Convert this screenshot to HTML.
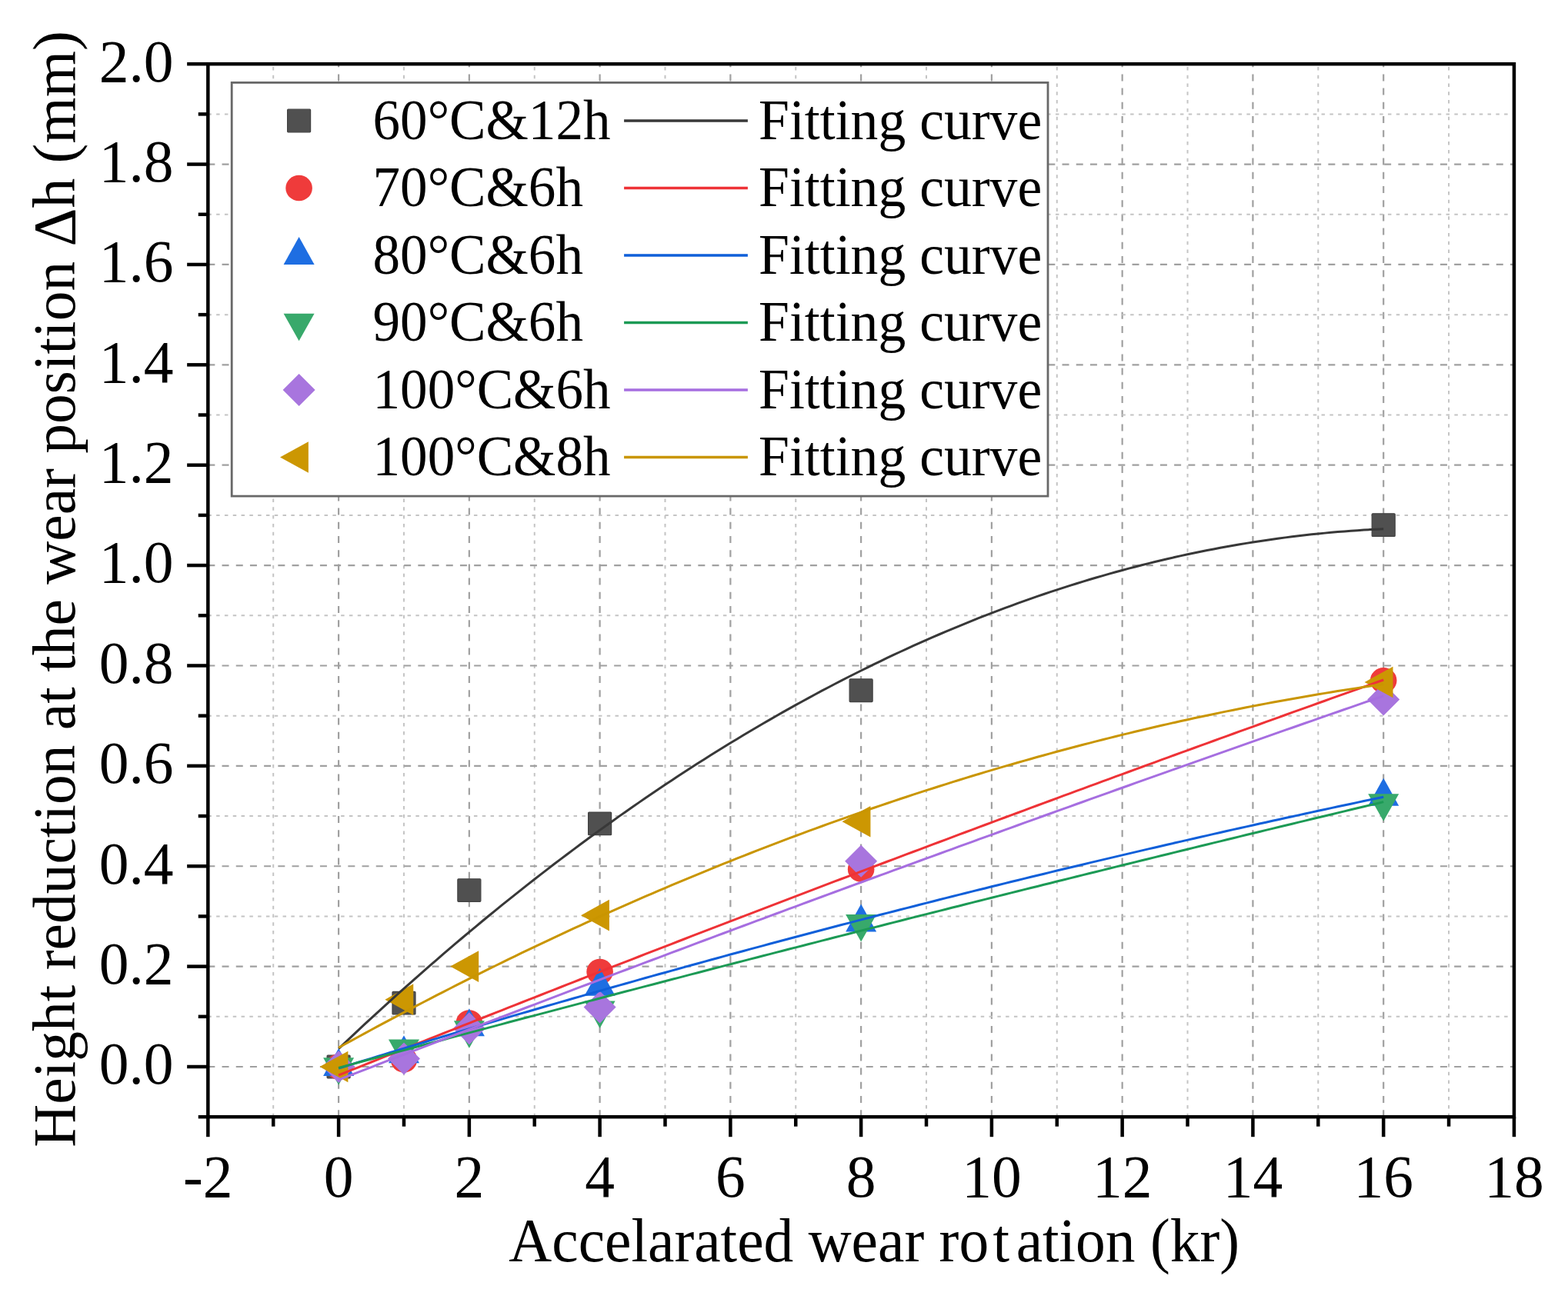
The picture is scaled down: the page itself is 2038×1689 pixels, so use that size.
<!DOCTYPE html><html><head><meta charset="utf-8"><style>html,body{margin:0;padding:0;background:#fff;overflow:hidden}svg{display:block}text{font-family:"Liberation Serif","Times New Roman",serif;fill:#000}</style></head><body>
<svg width="2038" height="1689" viewBox="0 0 2038 1689">
<rect width="2038" height="1689" fill="#fff"/>
<g><line x1="355.22" y1="1452.19" x2="355.22" y2="83.20" stroke="#c4c4c4" stroke-width="2" stroke-dasharray="4.5 6.3"/><line x1="440.10" y1="1452.19" x2="440.10" y2="83.20" stroke="#a0a0a0" stroke-width="2.2" stroke-dasharray="9 9.2"/><line x1="524.98" y1="1452.19" x2="524.98" y2="83.20" stroke="#c4c4c4" stroke-width="2" stroke-dasharray="4.5 6.3"/><line x1="609.86" y1="1452.19" x2="609.86" y2="83.20" stroke="#a0a0a0" stroke-width="2.2" stroke-dasharray="9 9.2"/><line x1="694.74" y1="1452.19" x2="694.74" y2="83.20" stroke="#c4c4c4" stroke-width="2" stroke-dasharray="4.5 6.3"/><line x1="779.62" y1="1452.19" x2="779.62" y2="83.20" stroke="#a0a0a0" stroke-width="2.2" stroke-dasharray="9 9.2"/><line x1="864.50" y1="1452.19" x2="864.50" y2="83.20" stroke="#c4c4c4" stroke-width="2" stroke-dasharray="4.5 6.3"/><line x1="949.38" y1="1452.19" x2="949.38" y2="83.20" stroke="#a0a0a0" stroke-width="2.2" stroke-dasharray="9 9.2"/><line x1="1034.26" y1="1452.19" x2="1034.26" y2="83.20" stroke="#c4c4c4" stroke-width="2" stroke-dasharray="4.5 6.3"/><line x1="1119.14" y1="1452.19" x2="1119.14" y2="83.20" stroke="#a0a0a0" stroke-width="2.2" stroke-dasharray="9 9.2"/><line x1="1204.02" y1="1452.19" x2="1204.02" y2="83.20" stroke="#c4c4c4" stroke-width="2" stroke-dasharray="4.5 6.3"/><line x1="1288.90" y1="1452.19" x2="1288.90" y2="83.20" stroke="#a0a0a0" stroke-width="2.2" stroke-dasharray="9 9.2"/><line x1="1373.78" y1="1452.19" x2="1373.78" y2="83.20" stroke="#c4c4c4" stroke-width="2" stroke-dasharray="4.5 6.3"/><line x1="1458.66" y1="1452.19" x2="1458.66" y2="83.20" stroke="#a0a0a0" stroke-width="2.2" stroke-dasharray="9 9.2"/><line x1="1543.54" y1="1452.19" x2="1543.54" y2="83.20" stroke="#c4c4c4" stroke-width="2" stroke-dasharray="4.5 6.3"/><line x1="1628.42" y1="1452.19" x2="1628.42" y2="83.20" stroke="#a0a0a0" stroke-width="2.2" stroke-dasharray="9 9.2"/><line x1="1713.30" y1="1452.19" x2="1713.30" y2="83.20" stroke="#c4c4c4" stroke-width="2" stroke-dasharray="4.5 6.3"/><line x1="1798.18" y1="1452.19" x2="1798.18" y2="83.20" stroke="#a0a0a0" stroke-width="2.2" stroke-dasharray="9 9.2"/><line x1="1883.06" y1="1452.19" x2="1883.06" y2="83.20" stroke="#c4c4c4" stroke-width="2" stroke-dasharray="4.5 6.3"/><line x1="270.34" y1="1387.00" x2="1967.94" y2="1387.00" stroke="#a0a0a0" stroke-width="2.2" stroke-dasharray="9 9.2"/><line x1="270.34" y1="1321.81" x2="1967.94" y2="1321.81" stroke="#c4c4c4" stroke-width="2" stroke-dasharray="4.5 6.3"/><line x1="270.34" y1="1256.62" x2="1967.94" y2="1256.62" stroke="#a0a0a0" stroke-width="2.2" stroke-dasharray="9 9.2"/><line x1="270.34" y1="1191.43" x2="1967.94" y2="1191.43" stroke="#c4c4c4" stroke-width="2" stroke-dasharray="4.5 6.3"/><line x1="270.34" y1="1126.24" x2="1967.94" y2="1126.24" stroke="#a0a0a0" stroke-width="2.2" stroke-dasharray="9 9.2"/><line x1="270.34" y1="1061.05" x2="1967.94" y2="1061.05" stroke="#c4c4c4" stroke-width="2" stroke-dasharray="4.5 6.3"/><line x1="270.34" y1="995.86" x2="1967.94" y2="995.86" stroke="#a0a0a0" stroke-width="2.2" stroke-dasharray="9 9.2"/><line x1="270.34" y1="930.67" x2="1967.94" y2="930.67" stroke="#c4c4c4" stroke-width="2" stroke-dasharray="4.5 6.3"/><line x1="270.34" y1="865.48" x2="1967.94" y2="865.48" stroke="#a0a0a0" stroke-width="2.2" stroke-dasharray="9 9.2"/><line x1="270.34" y1="800.29" x2="1967.94" y2="800.29" stroke="#c4c4c4" stroke-width="2" stroke-dasharray="4.5 6.3"/><line x1="270.34" y1="735.10" x2="1967.94" y2="735.10" stroke="#a0a0a0" stroke-width="2.2" stroke-dasharray="9 9.2"/><line x1="270.34" y1="669.91" x2="1967.94" y2="669.91" stroke="#c4c4c4" stroke-width="2" stroke-dasharray="4.5 6.3"/><line x1="270.34" y1="604.72" x2="1967.94" y2="604.72" stroke="#a0a0a0" stroke-width="2.2" stroke-dasharray="9 9.2"/><line x1="270.34" y1="539.53" x2="1967.94" y2="539.53" stroke="#c4c4c4" stroke-width="2" stroke-dasharray="4.5 6.3"/><line x1="270.34" y1="474.34" x2="1967.94" y2="474.34" stroke="#a0a0a0" stroke-width="2.2" stroke-dasharray="9 9.2"/><line x1="270.34" y1="409.15" x2="1967.94" y2="409.15" stroke="#c4c4c4" stroke-width="2" stroke-dasharray="4.5 6.3"/><line x1="270.34" y1="343.96" x2="1967.94" y2="343.96" stroke="#a0a0a0" stroke-width="2.2" stroke-dasharray="9 9.2"/><line x1="270.34" y1="278.77" x2="1967.94" y2="278.77" stroke="#c4c4c4" stroke-width="2" stroke-dasharray="4.5 6.3"/><line x1="270.34" y1="213.58" x2="1967.94" y2="213.58" stroke="#a0a0a0" stroke-width="2.2" stroke-dasharray="9 9.2"/><line x1="270.34" y1="148.39" x2="1967.94" y2="148.39" stroke="#c4c4c4" stroke-width="2" stroke-dasharray="4.5 6.3"/></g>
<g><rect x="425.10" y="1372.20" width="30" height="29.6" rx="1" fill="#505050" stroke="#424242" stroke-width="1.2"/><rect x="509.98" y="1289.41" width="30" height="29.6" rx="1" fill="#505050" stroke="#424242" stroke-width="1.2"/><rect x="594.86" y="1142.73" width="30" height="29.6" rx="1" fill="#505050" stroke="#424242" stroke-width="1.2"/><rect x="764.62" y="1056.03" width="30" height="29.6" rx="1" fill="#505050" stroke="#424242" stroke-width="1.2"/><rect x="1104.14" y="882.95" width="30" height="29.6" rx="1" fill="#505050" stroke="#424242" stroke-width="1.2"/><rect x="1783.18" y="667.82" width="30" height="29.6" rx="1" fill="#505050" stroke="#424242" stroke-width="1.2"/><ellipse cx="440.10" cy="1387.00" rx="17.3" ry="16.7" fill="#ef3b3b"/><ellipse cx="524.98" cy="1377.87" rx="17.3" ry="16.7" fill="#ef3b3b"/><ellipse cx="609.86" cy="1329.83" rx="17.3" ry="16.7" fill="#ef3b3b"/><ellipse cx="779.62" cy="1263.46" rx="17.3" ry="16.7" fill="#ef3b3b"/><ellipse cx="1119.14" cy="1130.15" rx="17.3" ry="16.7" fill="#ef3b3b"/><ellipse cx="1798.18" cy="884.71" rx="17.3" ry="16.7" fill="#ef3b3b"/><polygon points="440.10,1363.00 460.10,1399.00 420.10,1399.00" fill="#1e6ee2"/><polygon points="524.98,1346.18 544.98,1382.18 504.98,1382.18" fill="#1e6ee2"/><polygon points="609.86,1311.30 629.86,1347.30 589.86,1347.30" fill="#1e6ee2"/><polygon points="779.62,1258.70 799.62,1294.70 759.62,1294.70" fill="#1e6ee2"/><polygon points="1119.14,1175.51 1139.14,1211.51 1099.14,1211.51" fill="#1e6ee2"/><polygon points="1798.18,1011.63 1818.18,1047.63 1778.18,1047.63" fill="#1e6ee2"/><polygon points="440.10,1410.67 460.10,1375.17 420.10,1375.17" fill="#38a96b"/><polygon points="524.98,1387.07 544.98,1351.57 504.98,1351.57" fill="#38a96b"/><polygon points="609.86,1362.69 629.86,1327.19 589.86,1327.19" fill="#38a96b"/><polygon points="779.62,1337.00 799.62,1301.50 759.62,1301.50" fill="#38a96b"/><polygon points="1119.14,1224.48 1139.14,1188.98 1099.14,1188.98" fill="#38a96b"/><polygon points="1798.18,1067.77 1818.18,1032.27 1778.18,1032.27" fill="#38a96b"/><polygon points="440.10,1366.00 461.10,1387.00 440.10,1408.00 419.10,1387.00" fill="#a875de"/><polygon points="524.98,1355.57 545.98,1376.57 524.98,1397.57 503.98,1376.57" fill="#a875de"/><polygon points="609.86,1316.13 630.86,1337.13 609.86,1358.13 588.86,1337.13" fill="#a875de"/><polygon points="779.62,1288.62 800.62,1309.62 779.62,1330.62 758.62,1309.62" fill="#a875de"/><polygon points="1119.14,1098.72 1140.14,1119.72 1119.14,1140.72 1098.14,1119.72" fill="#a875de"/><polygon points="1798.18,888.48 1819.18,909.48 1798.18,930.48 1777.18,909.48" fill="#a875de"/><polygon points="415.50,1387.00 452.40,1366.70 452.40,1407.30" fill="#cc9702"/><polygon points="500.38,1299.65 537.28,1279.35 537.28,1319.95" fill="#cc9702"/><polygon points="585.26,1256.62 622.16,1236.32 622.16,1276.92" fill="#cc9702"/><polygon points="755.02,1190.13 791.92,1169.83 791.92,1210.43" fill="#cc9702"/><polygon points="1094.54,1068.22 1131.44,1047.92 1131.44,1088.52" fill="#cc9702"/><polygon points="1773.58,886.99 1810.48,866.69 1810.48,907.29" fill="#cc9702"/><polyline points="440.10,1363.60 448.59,1355.56 457.08,1347.57 465.56,1339.62 474.05,1331.72 482.54,1323.87 491.03,1316.07 499.52,1308.32 508.00,1300.61 516.49,1292.95 524.98,1285.34 533.47,1277.78 541.96,1270.27 550.44,1262.80 558.93,1255.38 567.42,1248.01 575.91,1240.69 584.40,1233.42 592.88,1226.19 601.37,1219.01 609.86,1211.88 618.35,1204.80 626.84,1197.77 635.32,1190.78 643.81,1183.84 652.30,1176.95 660.79,1170.11 669.28,1163.32 677.76,1156.57 686.25,1149.87 694.74,1143.23 703.23,1136.62 711.72,1130.07 720.20,1123.56 728.69,1117.11 737.18,1110.70 745.67,1104.34 754.16,1098.02 762.64,1091.76 771.13,1085.54 779.62,1079.37 788.11,1073.25 796.60,1067.18 805.08,1061.15 813.57,1055.17 822.06,1049.25 830.55,1043.36 839.04,1037.53 847.52,1031.75 856.01,1026.01 864.50,1020.32 872.99,1014.68 881.48,1009.09 889.96,1003.54 898.45,998.04 906.94,992.60 915.43,987.20 923.92,981.84 932.40,976.54 940.89,971.28 949.38,966.07 957.87,960.91 966.36,955.80 974.84,950.73 983.33,945.72 991.82,940.75 1000.31,935.83 1008.80,930.96 1017.28,926.13 1025.77,921.36 1034.26,916.63 1042.75,911.95 1051.24,907.31 1059.72,902.73 1068.21,898.19 1076.70,893.71 1085.19,889.27 1093.68,884.87 1102.16,880.53 1110.65,876.23 1119.14,871.99 1127.63,867.79 1136.12,863.63 1144.60,859.53 1153.09,855.47 1161.58,851.47 1170.07,847.51 1178.56,843.59 1187.04,839.73 1195.53,835.91 1204.02,832.15 1212.51,828.43 1221.00,824.75 1229.48,821.13 1237.97,817.55 1246.46,814.03 1254.95,810.55 1263.44,807.12 1271.92,803.73 1280.41,800.40 1288.90,797.11 1297.39,793.87 1305.88,790.68 1314.36,787.54 1322.85,784.44 1331.34,781.39 1339.83,778.39 1348.32,775.44 1356.80,772.54 1365.29,769.68 1373.78,766.88 1382.27,764.12 1390.76,761.41 1399.24,758.74 1407.73,756.13 1416.22,753.56 1424.71,751.04 1433.20,748.57 1441.68,746.15 1450.17,743.77 1458.66,741.45 1467.15,739.17 1475.64,736.94 1484.12,734.75 1492.61,732.62 1501.10,730.53 1509.59,728.49 1518.08,726.50 1526.56,724.56 1535.05,722.66 1543.54,720.82 1552.03,719.02 1560.52,717.27 1569.00,715.57 1577.49,713.91 1585.98,712.31 1594.47,710.75 1602.96,709.24 1611.44,707.77 1619.93,706.36 1628.42,704.99 1636.91,703.68 1645.40,702.41 1653.88,701.18 1662.37,700.01 1670.86,698.88 1679.35,697.80 1687.84,696.77 1696.32,695.79 1704.81,694.86 1713.30,693.97 1721.79,693.13 1730.28,692.34 1738.76,691.60 1747.25,690.91 1755.74,690.26 1764.23,689.66 1772.72,689.11 1781.20,688.61 1789.69,688.16 1798.18,687.75" fill="none" stroke="#383838" stroke-width="3.0" stroke-linejoin="round"/><polyline points="440.10,1398.01 448.59,1394.60 457.08,1391.19 465.56,1387.79 474.05,1384.39 482.54,1380.99 491.03,1377.59 499.52,1374.20 508.00,1370.80 516.49,1367.42 524.98,1364.03 533.47,1360.64 541.96,1357.26 550.44,1353.88 558.93,1350.51 567.42,1347.13 575.91,1343.76 584.40,1340.39 592.88,1337.02 601.37,1333.66 609.86,1330.30 618.35,1326.94 626.84,1323.58 635.32,1320.23 643.81,1316.88 652.30,1313.53 660.79,1310.18 669.28,1306.83 677.76,1303.49 686.25,1300.15 694.74,1296.82 703.23,1293.48 711.72,1290.15 720.20,1286.82 728.69,1283.49 737.18,1280.17 745.67,1276.84 754.16,1273.52 762.64,1270.21 771.13,1266.89 779.62,1263.58 788.11,1260.27 796.60,1256.96 805.08,1253.66 813.57,1250.35 822.06,1247.05 830.55,1243.76 839.04,1240.46 847.52,1237.17 856.01,1233.88 864.50,1230.59 872.99,1227.30 881.48,1224.02 889.96,1220.74 898.45,1217.46 906.94,1214.19 915.43,1210.92 923.92,1207.64 932.40,1204.38 940.89,1201.11 949.38,1197.85 957.87,1194.59 966.36,1191.33 974.84,1188.07 983.33,1184.82 991.82,1181.57 1000.31,1178.32 1008.80,1175.08 1017.28,1171.83 1025.77,1168.59 1034.26,1165.35 1042.75,1162.12 1051.24,1158.88 1059.72,1155.65 1068.21,1152.42 1076.70,1149.20 1085.19,1145.97 1093.68,1142.75 1102.16,1139.53 1110.65,1136.32 1119.14,1133.10 1127.63,1129.89 1136.12,1126.68 1144.60,1123.48 1153.09,1120.27 1161.58,1117.07 1170.07,1113.87 1178.56,1110.68 1187.04,1107.48 1195.53,1104.29 1204.02,1101.10 1212.51,1097.92 1221.00,1094.73 1229.48,1091.55 1237.97,1088.37 1246.46,1085.20 1254.95,1082.02 1263.44,1078.85 1271.92,1075.68 1280.41,1072.51 1288.90,1069.35 1297.39,1066.19 1305.88,1063.03 1314.36,1059.87 1322.85,1056.72 1331.34,1053.57 1339.83,1050.42 1348.32,1047.27 1356.80,1044.12 1365.29,1040.98 1373.78,1037.84 1382.27,1034.71 1390.76,1031.57 1399.24,1028.44 1407.73,1025.31 1416.22,1022.18 1424.71,1019.06 1433.20,1015.93 1441.68,1012.81 1450.17,1009.70 1458.66,1006.58 1467.15,1003.47 1475.64,1000.36 1484.12,997.25 1492.61,994.15 1501.10,991.05 1509.59,987.95 1518.08,984.85 1526.56,981.75 1535.05,978.66 1543.54,975.57 1552.03,972.48 1560.52,969.40 1569.00,966.31 1577.49,963.23 1585.98,960.16 1594.47,957.08 1602.96,954.01 1611.44,950.94 1619.93,947.87 1628.42,944.80 1636.91,941.74 1645.40,938.68 1653.88,935.62 1662.37,932.57 1670.86,929.51 1679.35,926.46 1687.84,923.41 1696.32,920.37 1704.81,917.33 1713.30,914.28 1721.79,911.25 1730.28,908.21 1738.76,905.18 1747.25,902.15 1755.74,899.12 1764.23,896.09 1772.72,893.07 1781.20,890.05 1789.69,887.03 1798.18,884.01" fill="none" stroke="#ee3236" stroke-width="3.0" stroke-linejoin="round"/><polyline points="440.10,1389.11 448.59,1386.49 457.08,1383.88 465.56,1381.27 474.05,1378.66 482.54,1376.06 491.03,1373.46 499.52,1370.87 508.00,1368.29 516.49,1365.71 524.98,1363.13 533.47,1360.56 541.96,1358.00 550.44,1355.44 558.93,1352.89 567.42,1350.34 575.91,1347.80 584.40,1345.26 592.88,1342.72 601.37,1340.20 609.86,1337.67 618.35,1335.16 626.84,1332.65 635.32,1330.14 643.81,1327.64 652.30,1325.14 660.79,1322.65 669.28,1320.16 677.76,1317.68 686.25,1315.21 694.74,1312.74 703.23,1310.27 711.72,1307.81 720.20,1305.36 728.69,1302.91 737.18,1300.47 745.67,1298.03 754.16,1295.60 762.64,1293.17 771.13,1290.74 779.62,1288.33 788.11,1285.91 796.60,1283.51 805.08,1281.10 813.57,1278.71 822.06,1276.32 830.55,1273.93 839.04,1271.55 847.52,1269.17 856.01,1266.80 864.50,1264.44 872.99,1262.08 881.48,1259.72 889.96,1257.37 898.45,1255.03 906.94,1252.69 915.43,1250.35 923.92,1248.03 932.40,1245.70 940.89,1243.38 949.38,1241.07 957.87,1238.76 966.36,1236.46 974.84,1234.16 983.33,1231.87 991.82,1229.58 1000.31,1227.30 1008.80,1225.02 1017.28,1222.75 1025.77,1220.49 1034.26,1218.23 1042.75,1215.97 1051.24,1213.72 1059.72,1211.48 1068.21,1209.24 1076.70,1207.00 1085.19,1204.77 1093.68,1202.55 1102.16,1200.33 1110.65,1198.11 1119.14,1195.91 1127.63,1193.70 1136.12,1191.50 1144.60,1189.31 1153.09,1187.12 1161.58,1184.94 1170.07,1182.76 1178.56,1180.59 1187.04,1178.43 1195.53,1176.26 1204.02,1174.11 1212.51,1171.96 1221.00,1169.81 1229.48,1167.67 1237.97,1165.54 1246.46,1163.41 1254.95,1161.28 1263.44,1159.16 1271.92,1157.05 1280.41,1154.94 1288.90,1152.83 1297.39,1150.73 1305.88,1148.64 1314.36,1146.55 1322.85,1144.47 1331.34,1142.39 1339.83,1140.32 1348.32,1138.25 1356.80,1136.19 1365.29,1134.13 1373.78,1132.08 1382.27,1130.03 1390.76,1127.99 1399.24,1125.96 1407.73,1123.93 1416.22,1121.90 1424.71,1119.88 1433.20,1117.87 1441.68,1115.86 1450.17,1113.85 1458.66,1111.85 1467.15,1109.86 1475.64,1107.87 1484.12,1105.89 1492.61,1103.91 1501.10,1101.93 1509.59,1099.97 1518.08,1098.00 1526.56,1096.05 1535.05,1094.09 1543.54,1092.15 1552.03,1090.20 1560.52,1088.27 1569.00,1086.34 1577.49,1084.41 1585.98,1082.49 1594.47,1080.57 1602.96,1078.66 1611.44,1076.76 1619.93,1074.86 1628.42,1072.96 1636.91,1071.07 1645.40,1069.19 1653.88,1067.31 1662.37,1065.44 1670.86,1063.57 1679.35,1061.70 1687.84,1059.85 1696.32,1057.99 1704.81,1056.15 1713.30,1054.30 1721.79,1052.47 1730.28,1050.63 1738.76,1048.81 1747.25,1046.99 1755.74,1045.17 1764.23,1043.36 1772.72,1041.55 1781.20,1039.75 1789.69,1037.96 1798.18,1036.17" fill="none" stroke="#0f5fd9" stroke-width="3.0" stroke-linejoin="round"/><polyline points="440.10,1388.46 448.59,1386.16 457.08,1383.87 465.56,1381.57 474.05,1379.28 482.54,1377.00 491.03,1374.71 499.52,1372.42 508.00,1370.14 516.49,1367.86 524.98,1365.58 533.47,1363.30 541.96,1361.02 550.44,1358.75 558.93,1356.47 567.42,1354.20 575.91,1351.93 584.40,1349.66 592.88,1347.40 601.37,1345.13 609.86,1342.87 618.35,1340.61 626.84,1338.35 635.32,1336.09 643.81,1333.83 652.30,1331.58 660.79,1329.32 669.28,1327.07 677.76,1324.82 686.25,1322.57 694.74,1320.33 703.23,1318.08 711.72,1315.84 720.20,1313.60 728.69,1311.36 737.18,1309.12 745.67,1306.89 754.16,1304.65 762.64,1302.42 771.13,1300.19 779.62,1297.96 788.11,1295.73 796.60,1293.50 805.08,1291.28 813.57,1289.06 822.06,1286.83 830.55,1284.61 839.04,1282.40 847.52,1280.18 856.01,1277.97 864.50,1275.75 872.99,1273.54 881.48,1271.33 889.96,1269.13 898.45,1266.92 906.94,1264.72 915.43,1262.51 923.92,1260.31 932.40,1258.11 940.89,1255.92 949.38,1253.72 957.87,1251.53 966.36,1249.33 974.84,1247.14 983.33,1244.95 991.82,1242.77 1000.31,1240.58 1008.80,1238.40 1017.28,1236.21 1025.77,1234.03 1034.26,1231.85 1042.75,1229.68 1051.24,1227.50 1059.72,1225.33 1068.21,1223.16 1076.70,1220.98 1085.19,1218.82 1093.68,1216.65 1102.16,1214.48 1110.65,1212.32 1119.14,1210.16 1127.63,1208.00 1136.12,1205.84 1144.60,1203.68 1153.09,1201.53 1161.58,1199.37 1170.07,1197.22 1178.56,1195.07 1187.04,1192.92 1195.53,1190.77 1204.02,1188.63 1212.51,1186.49 1221.00,1184.34 1229.48,1182.20 1237.97,1180.07 1246.46,1177.93 1254.95,1175.79 1263.44,1173.66 1271.92,1171.53 1280.41,1169.40 1288.90,1167.27 1297.39,1165.14 1305.88,1163.02 1314.36,1160.90 1322.85,1158.77 1331.34,1156.65 1339.83,1154.54 1348.32,1152.42 1356.80,1150.30 1365.29,1148.19 1373.78,1146.08 1382.27,1143.97 1390.76,1141.86 1399.24,1139.76 1407.73,1137.65 1416.22,1135.55 1424.71,1133.45 1433.20,1131.35 1441.68,1129.25 1450.17,1127.15 1458.66,1125.06 1467.15,1122.96 1475.64,1120.87 1484.12,1118.78 1492.61,1116.70 1501.10,1114.61 1509.59,1112.53 1518.08,1110.44 1526.56,1108.36 1535.05,1106.28 1543.54,1104.20 1552.03,1102.13 1560.52,1100.05 1569.00,1097.98 1577.49,1095.91 1585.98,1093.84 1594.47,1091.77 1602.96,1089.71 1611.44,1087.64 1619.93,1085.58 1628.42,1083.52 1636.91,1081.46 1645.40,1079.40 1653.88,1077.35 1662.37,1075.29 1670.86,1073.24 1679.35,1071.19 1687.84,1069.14 1696.32,1067.09 1704.81,1065.05 1713.30,1063.00 1721.79,1060.96 1730.28,1058.92 1738.76,1056.88 1747.25,1054.85 1755.74,1052.81 1764.23,1050.78 1772.72,1048.74 1781.20,1046.71 1789.69,1044.69 1798.18,1042.66" fill="none" stroke="#1c9a55" stroke-width="3.0" stroke-linejoin="round"/><polyline points="440.10,1404.00 448.59,1400.71 457.08,1397.41 465.56,1394.12 474.05,1390.83 482.54,1387.54 491.03,1384.25 499.52,1380.97 508.00,1377.68 516.49,1374.40 524.98,1371.13 533.47,1367.85 541.96,1364.58 550.44,1361.31 558.93,1358.04 567.42,1354.77 575.91,1351.51 584.40,1348.24 592.88,1344.98 601.37,1341.73 609.86,1338.47 618.35,1335.22 626.84,1331.97 635.32,1328.72 643.81,1325.47 652.30,1322.23 660.79,1318.99 669.28,1315.75 677.76,1312.51 686.25,1309.27 694.74,1306.04 703.23,1302.81 711.72,1299.58 720.20,1296.35 728.69,1293.13 737.18,1289.91 745.67,1286.69 754.16,1283.47 762.64,1280.26 771.13,1277.04 779.62,1273.83 788.11,1270.63 796.60,1267.42 805.08,1264.22 813.57,1261.01 822.06,1257.81 830.55,1254.62 839.04,1251.42 847.52,1248.23 856.01,1245.04 864.50,1241.85 872.99,1238.67 881.48,1235.48 889.96,1232.30 898.45,1229.12 906.94,1225.94 915.43,1222.77 923.92,1219.60 932.40,1216.43 940.89,1213.26 949.38,1210.09 957.87,1206.93 966.36,1203.77 974.84,1200.61 983.33,1197.45 991.82,1194.30 1000.31,1191.15 1008.80,1188.00 1017.28,1184.85 1025.77,1181.70 1034.26,1178.56 1042.75,1175.42 1051.24,1172.28 1059.72,1169.14 1068.21,1166.01 1076.70,1162.88 1085.19,1159.75 1093.68,1156.62 1102.16,1153.49 1110.65,1150.37 1119.14,1147.25 1127.63,1144.13 1136.12,1141.01 1144.60,1137.90 1153.09,1134.79 1161.58,1131.68 1170.07,1128.57 1178.56,1125.47 1187.04,1122.36 1195.53,1119.26 1204.02,1116.16 1212.51,1113.07 1221.00,1109.97 1229.48,1106.88 1237.97,1103.79 1246.46,1100.70 1254.95,1097.62 1263.44,1094.54 1271.92,1091.46 1280.41,1088.38 1288.90,1085.30 1297.39,1082.23 1305.88,1079.16 1314.36,1076.09 1322.85,1073.02 1331.34,1069.95 1339.83,1066.89 1348.32,1063.83 1356.80,1060.77 1365.29,1057.72 1373.78,1054.66 1382.27,1051.61 1390.76,1048.56 1399.24,1045.52 1407.73,1042.47 1416.22,1039.43 1424.71,1036.39 1433.20,1033.35 1441.68,1030.32 1450.17,1027.28 1458.66,1024.25 1467.15,1021.22 1475.64,1018.19 1484.12,1015.17 1492.61,1012.15 1501.10,1009.13 1509.59,1006.11 1518.08,1003.09 1526.56,1000.08 1535.05,997.07 1543.54,994.06 1552.03,991.05 1560.52,988.05 1569.00,985.05 1577.49,982.05 1585.98,979.05 1594.47,976.06 1602.96,973.06 1611.44,970.07 1619.93,967.08 1628.42,964.10 1636.91,961.11 1645.40,958.13 1653.88,955.15 1662.37,952.17 1670.86,949.20 1679.35,946.22 1687.84,943.25 1696.32,940.29 1704.81,937.32 1713.30,934.36 1721.79,931.39 1730.28,928.43 1738.76,925.48 1747.25,922.52 1755.74,919.57 1764.23,916.62 1772.72,913.67 1781.20,910.72 1789.69,907.78 1798.18,904.84" fill="none" stroke="#a66ee0" stroke-width="3.0" stroke-linejoin="round"/><polyline points="440.10,1362.22 448.59,1357.54 457.08,1352.87 465.56,1348.23 474.05,1343.60 482.54,1339.00 491.03,1334.42 499.52,1329.87 508.00,1325.33 516.49,1320.82 524.98,1316.33 533.47,1311.86 541.96,1307.41 550.44,1302.98 558.93,1298.58 567.42,1294.20 575.91,1289.84 584.40,1285.50 592.88,1281.18 601.37,1276.88 609.86,1272.61 618.35,1268.36 626.84,1264.13 635.32,1259.92 643.81,1255.74 652.30,1251.57 660.79,1247.43 669.28,1243.31 677.76,1239.21 686.25,1235.13 694.74,1231.08 703.23,1227.04 711.72,1223.03 720.20,1219.04 728.69,1215.07 737.18,1211.13 745.67,1207.20 754.16,1203.30 762.64,1199.42 771.13,1195.56 779.62,1191.72 788.11,1187.91 796.60,1184.11 805.08,1180.34 813.57,1176.59 822.06,1172.86 830.55,1169.16 839.04,1165.47 847.52,1161.81 856.01,1158.17 864.50,1154.55 872.99,1150.95 881.48,1147.38 889.96,1143.82 898.45,1140.29 906.94,1136.78 915.43,1133.29 923.92,1129.83 932.40,1126.38 940.89,1122.96 949.38,1119.56 957.87,1116.18 966.36,1112.82 974.84,1109.49 983.33,1106.17 991.82,1102.88 1000.31,1099.61 1008.80,1096.36 1017.28,1093.14 1025.77,1089.93 1034.26,1086.75 1042.75,1083.59 1051.24,1080.45 1059.72,1077.33 1068.21,1074.23 1076.70,1071.16 1085.19,1068.11 1093.68,1065.08 1102.16,1062.07 1110.65,1059.08 1119.14,1056.12 1127.63,1053.18 1136.12,1050.25 1144.60,1047.35 1153.09,1044.48 1161.58,1041.62 1170.07,1038.79 1178.56,1035.98 1187.04,1033.19 1195.53,1030.42 1204.02,1027.67 1212.51,1024.95 1221.00,1022.24 1229.48,1019.56 1237.97,1016.90 1246.46,1014.26 1254.95,1011.65 1263.44,1009.05 1271.92,1006.48 1280.41,1003.93 1288.90,1001.40 1297.39,998.90 1305.88,996.41 1314.36,993.95 1322.85,991.51 1331.34,989.09 1339.83,986.69 1348.32,984.31 1356.80,981.96 1365.29,979.63 1373.78,977.32 1382.27,975.03 1390.76,972.76 1399.24,970.52 1407.73,968.29 1416.22,966.09 1424.71,963.91 1433.20,961.75 1441.68,959.62 1450.17,957.50 1458.66,955.41 1467.15,953.34 1475.64,951.29 1484.12,949.27 1492.61,947.26 1501.10,945.28 1509.59,943.32 1518.08,941.38 1526.56,939.46 1535.05,937.56 1543.54,935.69 1552.03,933.84 1560.52,932.01 1569.00,930.20 1577.49,928.41 1585.98,926.64 1594.47,924.90 1602.96,923.18 1611.44,921.48 1619.93,919.80 1628.42,918.15 1636.91,916.51 1645.40,914.90 1653.88,913.31 1662.37,911.74 1670.86,910.19 1679.35,908.67 1687.84,907.16 1696.32,905.68 1704.81,904.22 1713.30,902.78 1721.79,901.37 1730.28,899.97 1738.76,898.60 1747.25,897.25 1755.74,895.92 1764.23,894.61 1772.72,893.33 1781.20,892.07 1789.69,890.82 1798.18,889.60" fill="none" stroke="#c99500" stroke-width="3.0" stroke-linejoin="round"/></g>
<rect x="301.2" y="107.4" width="1060.8" height="537.7" fill="#fff" stroke="#686868" stroke-width="2.8"/>
<rect x="373.60" y="142.20" width="30" height="29.6" rx="1" fill="#505050" stroke="#424242" stroke-width="1.2"/>
<text transform="translate(484.5,180.50) scale(0.955,1)" font-size="74.5">60°C&amp;12h</text>
<line x1="811.1" y1="157.00" x2="971.9" y2="157.00" stroke="#383838" stroke-width="3.5"/>
<text transform="translate(986.1,180.50) scale(0.962,1)" font-size="74.5">Fitting curve</text>
<ellipse cx="388.60" cy="244.50" rx="17.3" ry="16.7" fill="#ef3b3b"/>
<text transform="translate(484.5,268.00) scale(0.955,1)" font-size="74.5">70°C&amp;6h</text>
<line x1="811.1" y1="244.50" x2="971.9" y2="244.50" stroke="#ee3236" stroke-width="3.5"/>
<text transform="translate(986.1,268.00) scale(0.962,1)" font-size="74.5">Fitting curve</text>
<polygon points="388.60,308.00 408.60,344.00 368.60,344.00" fill="#1e6ee2"/>
<text transform="translate(484.5,355.50) scale(0.955,1)" font-size="74.5">80°C&amp;6h</text>
<line x1="811.1" y1="332.00" x2="971.9" y2="332.00" stroke="#0f5fd9" stroke-width="3.5"/>
<text transform="translate(986.1,355.50) scale(0.962,1)" font-size="74.5">Fitting curve</text>
<polygon points="388.60,443.17 408.60,407.67 368.60,407.67" fill="#38a96b"/>
<text transform="translate(484.5,443.00) scale(0.955,1)" font-size="74.5">90°C&amp;6h</text>
<line x1="811.1" y1="419.50" x2="971.9" y2="419.50" stroke="#1c9a55" stroke-width="3.5"/>
<text transform="translate(986.1,443.00) scale(0.962,1)" font-size="74.5">Fitting curve</text>
<polygon points="388.60,486.00 409.60,507.00 388.60,528.00 367.60,507.00" fill="#a875de"/>
<text transform="translate(484.5,530.50) scale(0.955,1)" font-size="74.5">100°C&amp;6h</text>
<line x1="811.1" y1="507.00" x2="971.9" y2="507.00" stroke="#a66ee0" stroke-width="3.5"/>
<text transform="translate(986.1,530.50) scale(0.962,1)" font-size="74.5">Fitting curve</text>
<polygon points="364.00,594.50 400.90,574.20 400.90,614.80" fill="#cc9702"/>
<text transform="translate(484.5,618.00) scale(0.955,1)" font-size="74.5">100°C&amp;8h</text>
<line x1="811.1" y1="594.50" x2="971.9" y2="594.50" stroke="#c99500" stroke-width="3.5"/>
<text transform="translate(986.1,618.00) scale(0.962,1)" font-size="74.5">Fitting curve</text>
<g><rect x="270.34" y="83.20" width="1697.60" height="1368.99" fill="none" stroke="#000" stroke-width="4.5"/><line x1="270.34" y1="1452.19" x2="270.34" y2="1478.19" stroke="#000" stroke-width="4.5"/><line x1="355.22" y1="1452.19" x2="355.22" y2="1464.69" stroke="#000" stroke-width="4.5"/><line x1="440.10" y1="1452.19" x2="440.10" y2="1478.19" stroke="#000" stroke-width="4.5"/><line x1="524.98" y1="1452.19" x2="524.98" y2="1464.69" stroke="#000" stroke-width="4.5"/><line x1="609.86" y1="1452.19" x2="609.86" y2="1478.19" stroke="#000" stroke-width="4.5"/><line x1="694.74" y1="1452.19" x2="694.74" y2="1464.69" stroke="#000" stroke-width="4.5"/><line x1="779.62" y1="1452.19" x2="779.62" y2="1478.19" stroke="#000" stroke-width="4.5"/><line x1="864.50" y1="1452.19" x2="864.50" y2="1464.69" stroke="#000" stroke-width="4.5"/><line x1="949.38" y1="1452.19" x2="949.38" y2="1478.19" stroke="#000" stroke-width="4.5"/><line x1="1034.26" y1="1452.19" x2="1034.26" y2="1464.69" stroke="#000" stroke-width="4.5"/><line x1="1119.14" y1="1452.19" x2="1119.14" y2="1478.19" stroke="#000" stroke-width="4.5"/><line x1="1204.02" y1="1452.19" x2="1204.02" y2="1464.69" stroke="#000" stroke-width="4.5"/><line x1="1288.90" y1="1452.19" x2="1288.90" y2="1478.19" stroke="#000" stroke-width="4.5"/><line x1="1373.78" y1="1452.19" x2="1373.78" y2="1464.69" stroke="#000" stroke-width="4.5"/><line x1="1458.66" y1="1452.19" x2="1458.66" y2="1478.19" stroke="#000" stroke-width="4.5"/><line x1="1543.54" y1="1452.19" x2="1543.54" y2="1464.69" stroke="#000" stroke-width="4.5"/><line x1="1628.42" y1="1452.19" x2="1628.42" y2="1478.19" stroke="#000" stroke-width="4.5"/><line x1="1713.30" y1="1452.19" x2="1713.30" y2="1464.69" stroke="#000" stroke-width="4.5"/><line x1="1798.18" y1="1452.19" x2="1798.18" y2="1478.19" stroke="#000" stroke-width="4.5"/><line x1="1883.06" y1="1452.19" x2="1883.06" y2="1464.69" stroke="#000" stroke-width="4.5"/><line x1="1967.94" y1="1452.19" x2="1967.94" y2="1478.19" stroke="#000" stroke-width="4.5"/><line x1="257.74" y1="1452.19" x2="270.34" y2="1452.19" stroke="#000" stroke-width="4.5"/><line x1="243.14" y1="1387.00" x2="270.34" y2="1387.00" stroke="#000" stroke-width="4.5"/><line x1="257.74" y1="1321.81" x2="270.34" y2="1321.81" stroke="#000" stroke-width="4.5"/><line x1="243.14" y1="1256.62" x2="270.34" y2="1256.62" stroke="#000" stroke-width="4.5"/><line x1="257.74" y1="1191.43" x2="270.34" y2="1191.43" stroke="#000" stroke-width="4.5"/><line x1="243.14" y1="1126.24" x2="270.34" y2="1126.24" stroke="#000" stroke-width="4.5"/><line x1="257.74" y1="1061.05" x2="270.34" y2="1061.05" stroke="#000" stroke-width="4.5"/><line x1="243.14" y1="995.86" x2="270.34" y2="995.86" stroke="#000" stroke-width="4.5"/><line x1="257.74" y1="930.67" x2="270.34" y2="930.67" stroke="#000" stroke-width="4.5"/><line x1="243.14" y1="865.48" x2="270.34" y2="865.48" stroke="#000" stroke-width="4.5"/><line x1="257.74" y1="800.29" x2="270.34" y2="800.29" stroke="#000" stroke-width="4.5"/><line x1="243.14" y1="735.10" x2="270.34" y2="735.10" stroke="#000" stroke-width="4.5"/><line x1="257.74" y1="669.91" x2="270.34" y2="669.91" stroke="#000" stroke-width="4.5"/><line x1="243.14" y1="604.72" x2="270.34" y2="604.72" stroke="#000" stroke-width="4.5"/><line x1="257.74" y1="539.53" x2="270.34" y2="539.53" stroke="#000" stroke-width="4.5"/><line x1="243.14" y1="474.34" x2="270.34" y2="474.34" stroke="#000" stroke-width="4.5"/><line x1="257.74" y1="409.15" x2="270.34" y2="409.15" stroke="#000" stroke-width="4.5"/><line x1="243.14" y1="343.96" x2="270.34" y2="343.96" stroke="#000" stroke-width="4.5"/><line x1="257.74" y1="278.77" x2="270.34" y2="278.77" stroke="#000" stroke-width="4.5"/><line x1="243.14" y1="213.58" x2="270.34" y2="213.58" stroke="#000" stroke-width="4.5"/><line x1="257.74" y1="148.39" x2="270.34" y2="148.39" stroke="#000" stroke-width="4.5"/><line x1="243.14" y1="83.20" x2="270.34" y2="83.20" stroke="#000" stroke-width="4.5"/></g>
<text x="270.34" y="1555.5" font-size="77.5" text-anchor="middle">-2</text><text x="440.10" y="1555.5" font-size="77.5" text-anchor="middle">0</text><text x="609.86" y="1555.5" font-size="77.5" text-anchor="middle">2</text><text x="779.62" y="1555.5" font-size="77.5" text-anchor="middle">4</text><text x="949.38" y="1555.5" font-size="77.5" text-anchor="middle">6</text><text x="1119.14" y="1555.5" font-size="77.5" text-anchor="middle">8</text><text x="1288.90" y="1555.5" font-size="77.5" text-anchor="middle">10</text><text x="1458.66" y="1555.5" font-size="77.5" text-anchor="middle">12</text><text x="1628.42" y="1555.5" font-size="77.5" text-anchor="middle">14</text><text x="1798.18" y="1555.5" font-size="77.5" text-anchor="middle">16</text><text x="1967.94" y="1555.5" font-size="77.5" text-anchor="middle">18</text><text x="225.6" y="1409.30" font-size="77.5" text-anchor="end">0.0</text><text x="225.6" y="1278.92" font-size="77.5" text-anchor="end">0.2</text><text x="225.6" y="1148.54" font-size="77.5" text-anchor="end">0.4</text><text x="225.6" y="1018.16" font-size="77.5" text-anchor="end">0.6</text><text x="225.6" y="887.78" font-size="77.5" text-anchor="end">0.8</text><text x="225.6" y="757.40" font-size="77.5" text-anchor="end">1.0</text><text x="225.6" y="627.02" font-size="77.5" text-anchor="end">1.2</text><text x="225.6" y="496.64" font-size="77.5" text-anchor="end">1.4</text><text x="225.6" y="366.26" font-size="77.5" text-anchor="end">1.6</text><text x="225.6" y="235.88" font-size="77.5" text-anchor="end">1.8</text><text x="225.6" y="105.50" font-size="77.5" text-anchor="end">2.0</text>
<text transform="translate(661.3,1639.9) scale(0.975,1)" font-size="79.5">Accelarated wear ro<tspan dx="5.5">t</tspan><tspan dx="8.8">ation (kr)</tspan></text>
<text transform="translate(96.8,1491.7) rotate(-90) scale(0.9865,1)" font-size="78.6">Height reduction at the wear position Δh (mm)</text>
</svg></body></html>
